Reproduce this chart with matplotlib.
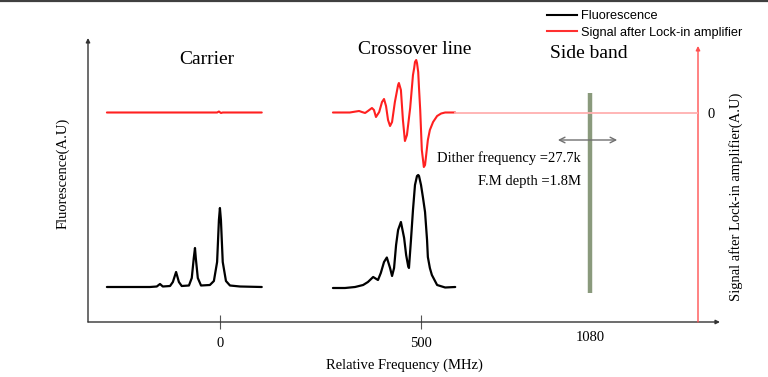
#!/usr/bin/env python3

import numpy as np
import matplotlib
matplotlib.use('Agg')
import matplotlib.pyplot as plt
from matplotlib.lines import Line2D
from matplotlib import transforms

plt.rcParams['font.family'] = ['Liberation Serif', 'DejaVu Serif']

# Carrier fluorescence trace (MHz, A.U.)
carrier_x = [-281, -174, -157, -149, -142, -124, -117, -109, -102, -95, -77, -70, -65, -62,
             -60, -55, -47, -25, -15, -7, -2.5, 0, 2.5, 7, 15, 25, 50, 104]
carrier_y = [0, 0, 0.5, 3, 0.5, 1, 5, 15, 5, 1, 1.5, 9, 29, 39,
             29, 9, 1.5, 2, 6, 25, 67, 79, 67, 25, 6, 1.5, 0.5, 0]
carrier_sig_x = [-281, -7, -2.5, 2.5, 7, 104]
carrier_sig_y = [0, 0, 1, -0.5, 0, 0]

# Crossover line fluorescence trace
cross_x = [281, 311, 336, 356, 368, 381, 393, 400, 408, 415, 423, 428, 433, 438, 443,
           450, 458, 463, 468, 470, 475, 480, 485, 490, 493, 495, 500, 505, 510, 515,
           517, 522, 527, 540, 560, 585]
cross_y = [-1, -1, 0, 2, 5, 10, 7, 14, 25, 29.5, 19, 11, 19, 42, 57,
           65, 49, 32, 21, 19, 47, 77, 102, 111, 112, 111, 102, 89, 75, 47,
           30, 19, 12, 2, -0.5, 0]

# Lock-in signal across the crossover line
cross_sig_x = [281, 323, 338, 346, 353, 361, 368, 378, 383, 388, 396, 403, 408, 413, 418,
               423, 428, 435, 443, 445, 450, 455, 460, 465, 473, 480, 483, 485, 488, 490,
               493, 495, 498, 502, 505, 507, 510, 512, 517, 522, 530, 540, 550, 560, 585]
cross_sig_y = [0, 0, 1, 1.5, 0.5, -0.5, 1.5, 4.5, 2.5, -4.5, 0.5, 10.5, 13.5, 6.5, -7.5,
               -13.5, -9.5, 10.5, 27.5, 29.5, 22.5, -7.5, -28.5, -22.5, 4.5, 37.5, 44.5, 50.5, 52.5, 49.5,
               40.5, 24.5, 2.5, -37.5, -47.5, -54.5, -52.5, -45.5, -27.5, -17.5, -9.5, -3.5, -1, 0, 0]

sideband_freq = 1080
tick_freqs = [0, 500, 1080]
tick_labels = ['0', '500', '1080']


# the frequency axis is schematic: compressed after the crossover line
def fwd(x):
    return np.interp(x, [-3000, 600, 1080, 4000], [-3000, 600, 920, 2866.7])


def inv(u):
    return np.interp(u, [-3000, 600, 920, 2866.7], [-3000, 600, 1080, 4000])


fig = plt.figure(figsize=(7.68, 3.77), dpi=100)
ax = fig.add_axes([88 / 768, 55 / 377, 610 / 768, 284 / 377])
ax.set_xscale('function', functions=(fwd, inv))
ax.set_xlim(-328, 1483)
ax.set_ylim(-35, 249)
ax2 = ax.twinx()
ax2.set_ylim(-209.5, 74.5)

kw = dict(solid_joinstyle='round', solid_capstyle='round')
ax.plot(carrier_x, carrier_y, color='black', lw=1.6, **kw)
ax.plot(cross_x, cross_y, color='black', lw=1.6, **kw)
ax2.plot(carrier_sig_x, carrier_sig_y, color='#ff2020', lw=1.5, **kw)
ax2.plot(cross_sig_x, cross_sig_y, color='#ff2020', lw=1.5, **kw)
ax2.plot([585, 1483], [0, 0], color='#ffb0b0', lw=1.3)

ax.vlines(sideband_freq, -6, 194, color='#8a9a7c', lw=3.2)
ax.annotate('', xy=(950, 147), xytext=(1192, 147),
            arrowprops=dict(arrowstyle='<->', color='#707070', lw=1))

for a in (ax, ax2):
    for s in a.spines.values():
        s.set_visible(False)

ax.annotate('', xy=(0, 1), xytext=(0, 0), xycoords='axes fraction',
            arrowprops=dict(arrowstyle='-|>', color='#333333', lw=1, mutation_scale=6,
                            shrinkA=0, shrinkB=0))
ax.annotate('', xy=(1.036, 0), xytext=(0, 0), xycoords='axes fraction',
            arrowprops=dict(arrowstyle='-|>', color='#333333', lw=1, mutation_scale=6,
                            shrinkA=0, shrinkB=0))
ax.annotate('', xy=(1, 0.972), xytext=(1, 0), xycoords='axes fraction',
            arrowprops=dict(arrowstyle='-|>', color='#ff5050', lw=1, mutation_scale=6,
                            shrinkA=0, shrinkB=0))

ax.set_yticks([])
ax.set_xticks(tick_freqs)
ax.set_xticklabels(tick_labels, fontsize=10.5)
ax.tick_params(axis='x', direction='inout', length=10, width=0.8, color='#555555', pad=6)
xt = ax.xaxis.get_major_ticks()
xt[2].tick1line.set_visible(False)
xt[2].label1.set_transform(xt[2].label1.get_transform() +
                           transforms.ScaledTranslation(0, 6 / 100, fig.dpi_scale_trans))
ax.xaxis.set_minor_locator(matplotlib.ticker.NullLocator())

ax2.set_yticks([0])
ax2.set_yticklabels(['0'], fontsize=10.5)
ax2.tick_params(axis='y', length=0, pad=7)

ax.text(-32, 228, 'Carrier', fontsize=14, ha='center', va='center')
ax.text(485, 237, 'Crossover line', fontsize=14, ha='center', va='center')
ax.text(1077, 233, 'Side band', fontsize=14, ha='center', va='center')
ax.text(1047, 129, 'Dither frequency =27.7k', fontsize=10.5, ha='right', va='center')
ax.text(1047, 106, 'F.M depth =1.8M', fontsize=10.5, ha='right', va='center')

fig.text(404 / 768, 1 - 365 / 377, 'Relative Frequency (MHz)', fontsize=10.5,
         ha='center', va='center')
fig.text(63 / 768, 1 - 173 / 377, 'Fluorescence(A.U)', fontsize=10.5, rotation=90,
         ha='center', va='center')
fig.text(736 / 768, 1 - 197 / 377, 'Signal after Lock-in amplifier(A.U)', fontsize=10.5,
         rotation=90, ha='center', va='center')

handles = [Line2D([], [], color='black', lw=1.5), Line2D([], [], color='#ff3030', lw=1.5)]
fig.legend(handles, ['Fluorescence', 'Signal after Lock-in amplifier'],
           loc='upper left', bbox_to_anchor=(547 / 768, 1 - 10 / 377), frameon=False,
           prop={'family': 'Liberation Sans', 'size': 9.2}, borderpad=0, borderaxespad=0,
           handlelength=2.35, handletextpad=0.3, labelspacing=0.38)

fig.add_artist(Line2D([0, 1], [1 - 1 / 377, 1 - 1 / 377], color='#404040', lw=1.6,
                      transform=fig.transFigure))

fig.savefig('out.png', dpi=100)
